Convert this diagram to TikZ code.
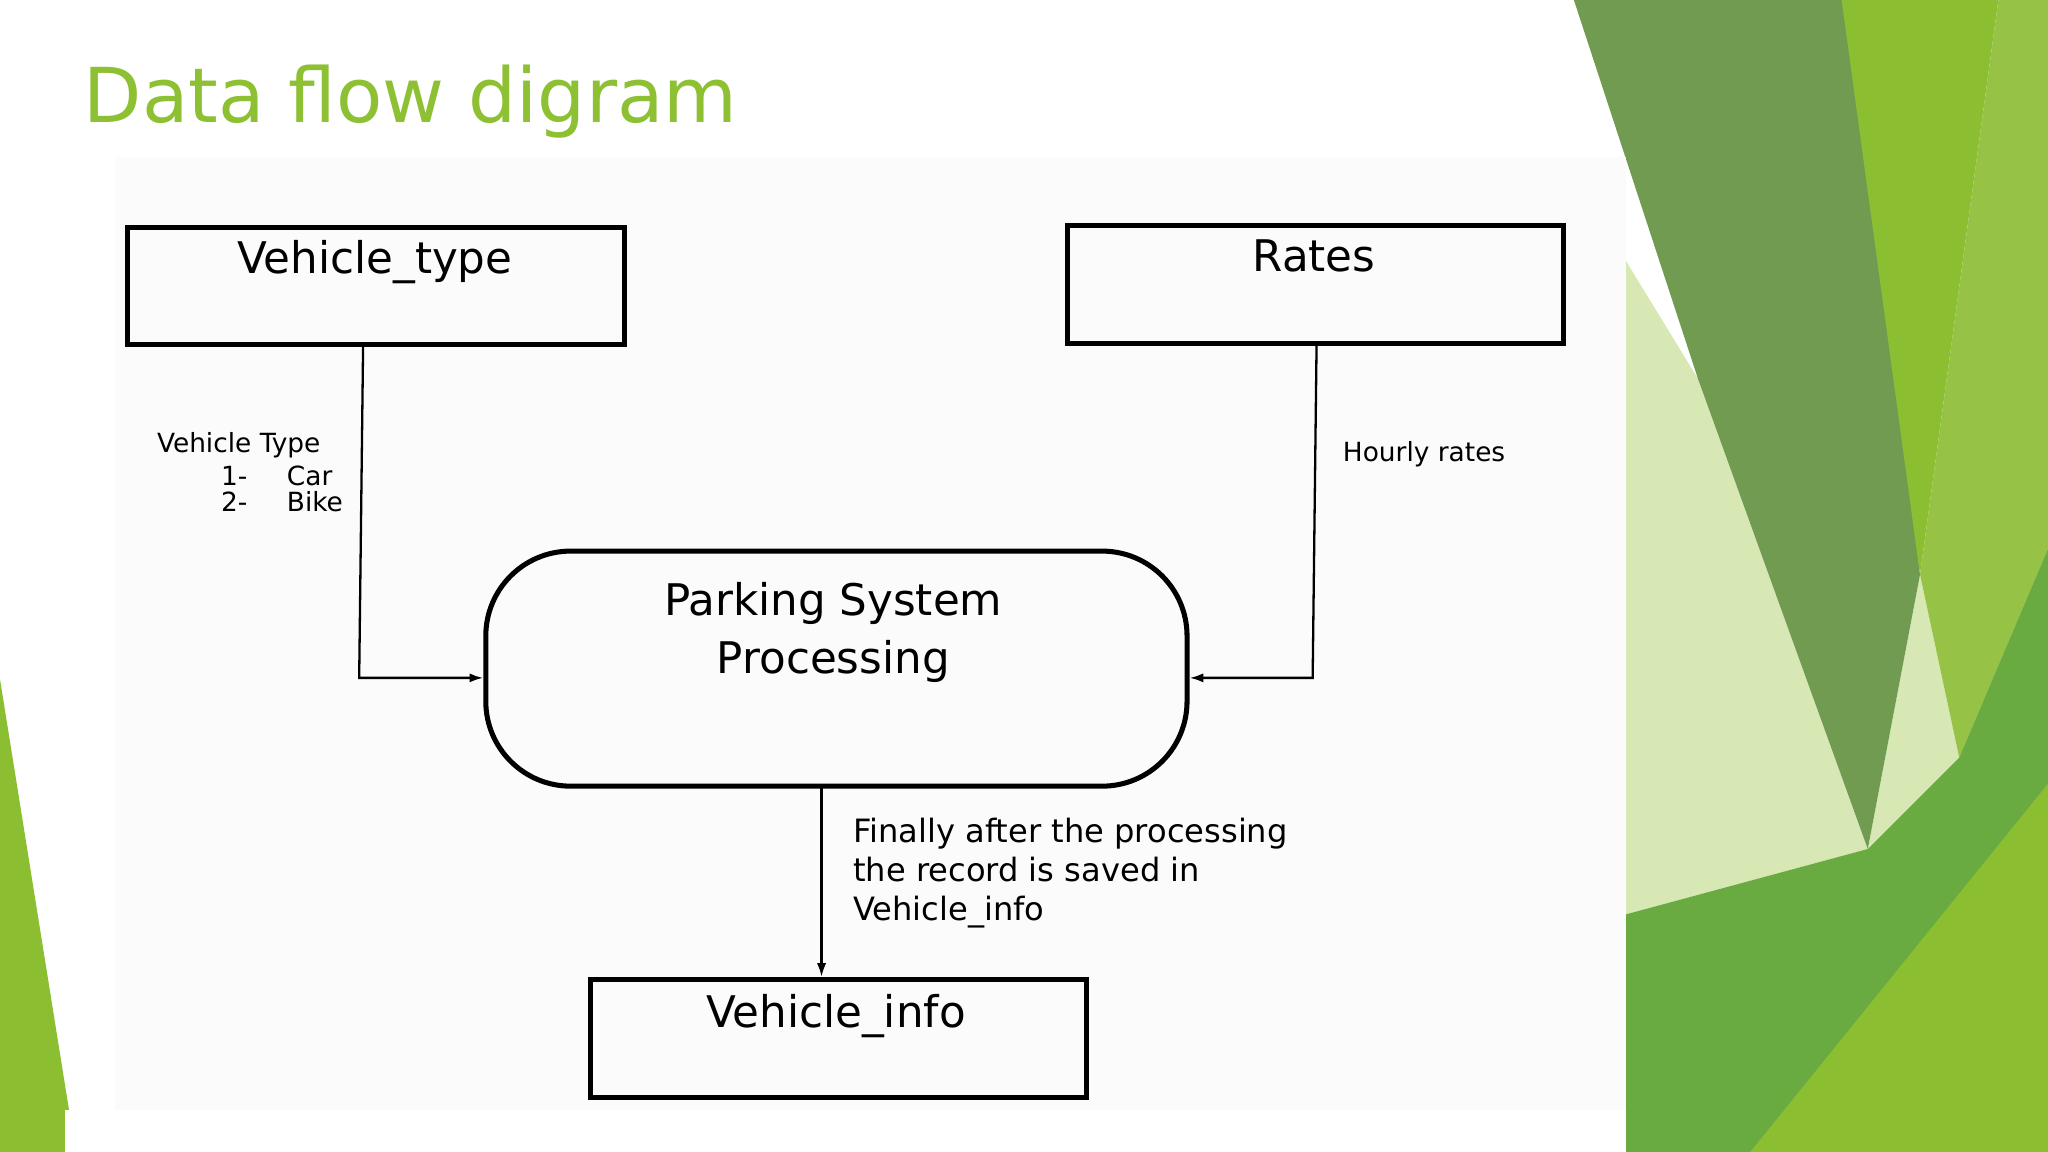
\documentclass[tikz,border=0pt]{standalone}
\usepackage{fontspec}
\setmainfont{DejaVu Sans}
\usetikzlibrary{arrows.meta}
\definecolor{ttl}{RGB}{141,192,50}
\definecolor{gA}{RGB}{112,155,80}
\definecolor{gB}{RGB}{140,190,50}
\definecolor{gC}{RGB}{215,232,180}
\definecolor{gD}{RGB}{105,170,65}
\definecolor{gE}{RGB}{150,195,70}
\begin{document}
\begin{tikzpicture}[x=0.02cm,y=-0.02cm,
  box/.style={draw,line width=2.2pt,minimum width=7.6cm,minimum height=1.8cm,anchor=north west,inner sep=0pt},
  lbl/.style={font=\fontsize{19}{24}\selectfont},
  small/.style={font=\fontsize{11.5}{13}\selectfont,anchor=west,align=left},
  flow/.style={line width=1pt,-{Latex[length=6pt,width=4pt]}}]
\useasboundingbox (0,0) rectangle (1568,882);
\fill[white] (0,0) rectangle (1568,882);
% decorations
\fill[gB] (0,520) -- (58,882) -- (0,882) -- cycle;
\fill[gC] (1245,200) -- (1300,290) -- (1430,650) -- (1245,700) -- cycle;
\fill[gC] (1470,440) -- (1500,580) -- (1430,650) -- cycle;
\fill[gA] (1205,0) -- (1420,0) -- (1470,440) -- (1430,650) -- (1300,290) -- cycle;
\fill[gB] (1410,0) -- (1530,0) -- (1470,440) -- cycle;
\fill[gE] (1530,0) -- (1568,0) -- (1568,420) -- (1500,580) -- (1470,440) -- cycle;
\fill[gD] (1430,650) -- (1500,580) -- (1568,420) -- (1568,882) -- (1150,882) -- (1245,760) -- (1245,700) -- cycle;
\fill[gB] (1340,882) -- (1568,600) -- (1568,882) -- cycle;
\fill[white!97!gray] (88,120) rectangle (1245,850);
\fill[white] (50,850) rectangle (1245,882);
\node[font=\fontsize{33}{38}\selectfont,text=ttl,anchor=west] (title) at (58,78) {Data flow digram};
% nodes
\node[box] (vt) at (96,172) {};
\node[lbl,anchor=north] (vtl) at (287,178) {Vehicle\_type};
\node[box] (rt) at (815,171) {};
\node[lbl,anchor=north] (rtl) at (1006,177) {Rates};
\node[draw,line width=2.2pt,rounded corners=1.3cm,minimum width=10.74cm,minimum height=3.6cm,anchor=north west,inner sep=0pt] (ps) at (370,420) {};
\node[lbl,align=center,anchor=north] (psl) at (638,440) {Parking System\\[1pt]Processing};
\node[box] (vi) at (450,748) {};
\node[lbl,anchor=north] (vil) at (640,755) {Vehicle\_info};
% connectors
\coordinate (c1) at (275,519);
\coordinate (c2) at (1005,519);
\draw[flow] (278,264) -- (c1) -- (ps.west |- c1);
\draw[flow] (1008,263) -- (c2) -- (ps.east |- c2);
\draw[flow] (629,600) -- (629,748);
% labels
\node[small] (l1) at (114,341) {Vehicle Type};
\node[small] (l2) at (163,364) {1-\hspace{1.5em}Car};
\node[small] (l3) at (163,384) {2-\hspace{1.5em}Bike};
\node[small] (l4) at (1022,348) {Hourly rates};
\node[anchor=north west,align=left,font=\fontsize{14}{17}\selectfont] (l5) at (647,620) {Finally after the processing\\the record is saved in\\Vehicle\_info};
\end{tikzpicture}
\end{document}
